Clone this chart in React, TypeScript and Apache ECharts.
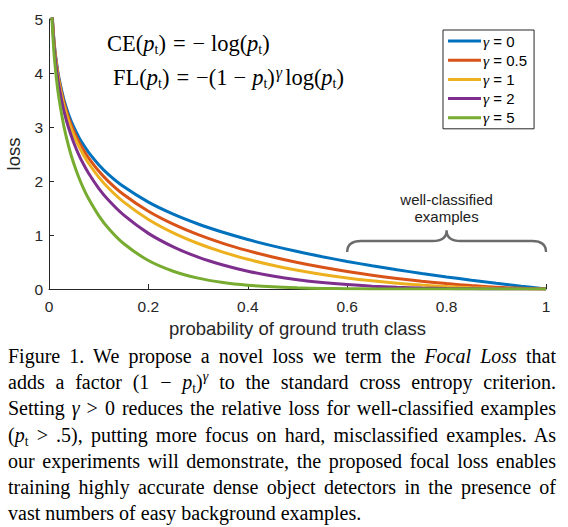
import React, { useEffect, useRef } from "react";
import * as echarts from "echarts";

// probability of ground truth class (x)
const P = [0.005, 0.01, 0.015, 0.02, 0.03, 0.04, 0.05, 0.06, 0.07, 0.08, 0.1, 0.12, 0.15, 0.2, 0.25, 0.3, 0.35, 0.4, 0.45, 0.5, 0.55, 0.6, 0.65, 0.7, 0.75, 0.8, 0.85, 0.9, 0.95, 1.0];
// loss values
const LOSS_G0 = [5.298, 4.605, 4.2, 3.912, 3.507, 3.219, 2.996, 2.813, 2.659, 2.526, 2.303, 2.12, 1.897, 1.609, 1.386, 1.204, 1.05, 0.916, 0.799, 0.693, 0.598, 0.511, 0.431, 0.357, 0.288, 0.223, 0.163, 0.105, 0.051, 0];
const LOSS_G05 = [5.285, 4.582, 4.168, 3.873, 3.454, 3.154, 2.92, 2.728, 2.565, 2.423, 2.184, 1.989, 1.749, 1.44, 1.201, 1.007, 0.846, 0.71, 0.592, 0.49, 0.401, 0.323, 0.255, 0.195, 0.144, 0.1, 0.063, 0.033, 0.012, 0];
const LOSS_G1 = [5.272, 4.559, 4.137, 3.834, 3.401, 3.09, 2.846, 2.645, 2.473, 2.324, 2.072, 1.866, 1.613, 1.288, 1.04, 0.843, 0.682, 0.55, 0.439, 0.347, 0.269, 0.204, 0.151, 0.107, 0.072, 0.045, 0.024, 0.011, 0.003, 0];
const LOSS_G2 = [5.245, 4.514, 4.075, 3.757, 3.299, 2.967, 2.704, 2.486, 2.3, 2.138, 1.865, 1.642, 1.371, 1.03, 0.78, 0.59, 0.444, 0.33, 0.242, 0.173, 0.121, 0.082, 0.053, 0.032, 0.018, 0.009, 0.004, 0.001, 0.0, 0];
const LOSS_G5 = [5.167, 4.379, 3.894, 3.536, 3.011, 2.625, 2.318, 2.065, 1.85, 1.665, 1.36, 1.119, 0.842, 0.527, 0.329, 0.202, 0.122, 0.071, 0.04, 0.022, 0.011, 0.005, 0.002, 0.001, 0.0, 0.0, 0, 0, 0, 0];

const SERIES_NAMES = ["γ = 0", "γ = 0.5", "γ = 1", "γ = 2", "γ = 5"];
const SERIES_VALUES = [LOSS_G0, LOSS_G05, LOSS_G1, LOSS_G2, LOSS_G5];
const COLORS = ["#0072BD", "#D95319", "#EDB120", "#7E2F8E", "#77AC30"];

// brace annotation (data coords): x range, end y, middle y, tip y, label y
const BRACE = [[0.6, 1.0, 0.685, 0.89, 1.09, 1.5]];
const BRACE_LABEL = "well-classified\nexamples";

const X_TICKS = { min: 0, max: 1, interval: 0.2 };
const Y_TICKS = { min: 0, max: 5, interval: 1 };

const SUB = { fontSize: "0.68em", verticalAlign: "-0.28em", lineHeight: 0 } as const;
const SUP = { fontSize: "0.7em", verticalAlign: "0.55em", lineHeight: 0 } as const;

const CAPTION_LINES = [
  <>Figure 1. We propose a novel loss we term the <i>Focal Loss</i> that</>,
  <>adds a factor (1 − <i>p</i><sub style={SUB}>t</sub>)<sup style={SUP}><i>γ</i></sup> to the standard cross entropy criterion.</>,
  <>Setting <i>γ</i> &gt; 0 reduces the relative loss for well-classified examples</>,
  <>(<i>p</i><sub style={SUB}>t</sub> &gt; .5), putting more focus on hard, misclassified examples. As</>,
  <>our experiments will demonstrate, the proposed focal loss enables</>,
  <>training highly accurate dense object detectors in the presence of</>,
  <>vast numbers of easy background examples.</>,
];

const SANS = "'Liberation Sans', Arial, Helvetica, sans-serif";
const SERIF = "'Liberation Serif', 'Times New Roman', serif";
const AXIS_COLOR = "#262626";

const eqRich = {
  a: { fontFamily: SERIF, fontSize: 22.5, lineHeight: 26, fill: "#000" },
  i: { fontFamily: SERIF, fontSize: 22.5, fontStyle: "italic", lineHeight: 26, fill: "#000" },
  o: { fontFamily: SERIF, fontSize: 22.5, lineHeight: 26, fill: "#000", padding: [0, 7, 0, 7] },
  b: { fontFamily: SERIF, fontSize: 22.5, lineHeight: 26, fill: "#000", padding: [0, 6, 0, 6] },
  s: { fontFamily: SERIF, fontSize: 14, lineHeight: 14, verticalAlign: "bottom", fill: "#000" },
  g: { fontFamily: SERIF, fontSize: 16, fontStyle: "italic", lineHeight: 16, verticalAlign: "top", fill: "#000", padding: [0, 3, 0, 1] },
};

function buildOption(): any {
  const lines = SERIES_NAMES.map((name, k) => ({
    name,
    type: "line",
    data: P.map((p, i) => [p, SERIES_VALUES[k][i]]),
    showSymbol: false,
    symbol: "none",
    smooth: 0.35,
    clip: true,
    lineStyle: { width: 3, color: COLORS[k] },
    itemStyle: { color: COLORS[k] },
    z: 2 + k,
  }));

  const brace = {
    type: "custom",
    name: "brace",
    data: BRACE,
    clip: false,
    silent: true,
    z: 10,
    renderItem: (_params: any, api: any) => {
      const x0 = api.value(0), x1 = api.value(1);
      const yEnd = api.value(2), yMid = api.value(3), yTip = api.value(4), yLab = api.value(5);
      const xc = (x0 + x1) / 2;
      const [L, yb] = api.coord([x0, yEnd]);
      const [R] = api.coord([x1, yEnd]);
      const [C, ym] = api.coord([xc, yMid]);
      const yt = api.coord([xc, yTip])[1];
      const lab = api.coord([xc, yLab]);
      const r = 14;
      const d = `M${L},${yb} Q${L},${ym} ${L + r},${ym} L${C - r},${ym} Q${C},${ym} ${C},${yt} Q${C},${ym} ${C + r},${ym} L${R - r},${ym} Q${R},${ym} ${R},${yb}`;
      return {
        type: "group",
        children: [
          {
            type: "path",
            shape: { pathData: d },
            style: { fill: "none", stroke: "#6b6b6b", lineWidth: 2.4 },
          },
          {
            type: "text",
            x: lab[0],
            y: lab[1],
            style: {
              text: BRACE_LABEL,
              align: "center",
              verticalAlign: "middle",
              fontFamily: SANS,
              fontSize: 15,
              lineHeight: 17,
              fill: "#222",
            },
          },
        ],
      };
    },
  };

  return {
    animation: false,
    backgroundColor: "#fff",
    grid: { left: 49, right: 22, top: 19, bottom: 51, containLabel: false, outerBoundsMode: "none" },
    xAxis: {
      type: "value",
      ...X_TICKS,
      name: "probability of ground truth class",
      nameLocation: "middle",
      nameGap: 29,
      nameTextStyle: { fontFamily: SANS, fontSize: 18.5, color: AXIS_COLOR },
      axisLine: { show: true, lineStyle: { color: AXIS_COLOR, width: 1 } },
      axisTick: { show: true, inside: true, length: 5, lineStyle: { color: AXIS_COLOR } },
      axisLabel: { fontFamily: SANS, fontSize: 15.5, color: AXIS_COLOR, margin: 9 },
      splitLine: { show: false },
    },
    yAxis: {
      type: "value",
      ...Y_TICKS,
      name: "loss",
      nameLocation: "middle",
      nameGap: 22,
      nameTextStyle: { fontFamily: SANS, fontSize: 18.5, color: AXIS_COLOR },
      axisLine: { show: true, lineStyle: { color: AXIS_COLOR, width: 1 } },
      axisTick: { show: true, inside: true, length: 5, lineStyle: { color: AXIS_COLOR } },
      axisLabel: { fontFamily: SANS, fontSize: 15.5, color: AXIS_COLOR, margin: 6 },
      splitLine: { show: false },
    },
    legend: {
      data: SERIES_NAMES,
      orient: "vertical",
      left: 443,
      top: 30,
      padding: [3, 7, 3, 5],
      itemGap: 3.2,
      itemWidth: 33,
      itemHeight: 3,
      icon: "rect",
      borderColor: AXIS_COLOR,
      borderWidth: 1,
      backgroundColor: "#fff",
      selectedMode: false,
      formatter: (name: string) => `{g|γ}{t|${name.slice(1)}}`,
      textStyle: {
        padding: [0, 0, 0, -3],
        rich: {
          g: { fontFamily: SERIF, fontStyle: "italic", fontSize: 15.5, lineHeight: 15, color: "#000" },
          t: { fontFamily: SANS, fontSize: 15, lineHeight: 15, color: "#000" },
        },
      },
    },
    graphic: [
      {
        type: "text",
        left: 107,
        top: 32,
        style: { text: "{a|CE(}{i|p}{s|t}{a|)}{o|=}{a|− log(}{i|p}{s|t}{a|)}", rich: eqRich },
      },
      {
        type: "text",
        left: 113,
        top: 64,
        style: { text: "{a|FL(}{i|p}{s|t}{a|)}{o|=}{a|−(1}{b|−}{i|p}{s|t}{a|)}{g|γ}{a|log(}{i|p}{s|t}{a|)}", rich: eqRich },
      },
    ],
    series: [...lines, brace],
  };
}

export default function App() {
  const ref = useRef<HTMLDivElement>(null);
  const capRef = useRef<HTMLDivElement>(null);

  useEffect(() => {
    const chart = echarts.init(ref.current!, null, { renderer: "svg" });
    chart.setOption(buildOption());

    // squeeze caption lines that are wider than the column
    const cap = capRef.current;
    if (cap) {
      const rows = Array.from(cap.querySelectorAll<HTMLSpanElement>("span[data-line]"));
      rows.forEach((span) => {
        const w = span.getBoundingClientRect().width;
        const avail = 548;
        if (w > avail + 0.5) {
          const n = (span.textContent || "").length;
          span.parentElement!.style.letterSpacing = `${-(w - avail) / n}px`;
        }
      });
    }
    return () => chart.dispose();
  }, []);

  return (
    <div style={{ position: "absolute", left: 0, top: 0, width: 568, height: 527, background: "#fff", overflow: "hidden" }}>
      <div ref={ref} style={{ position: "absolute", left: 0, top: 0, width: 568, height: 340 }} />
      <div
        ref={capRef}
        style={{
          position: "absolute",
          left: 8,
          top: 343,
          width: 548,
          fontFamily: SERIF,
          fontSize: 20,
          lineHeight: "26.2px",
          color: "#000",
        }}
      >
        {CAPTION_LINES.map((line, i) => (
          <div
            key={i}
            style={{
              whiteSpace: "nowrap",
              textAlign: "justify",
              textAlignLast: i === CAPTION_LINES.length - 1 ? "left" : "justify",
              height: "26.2px",
            }}
          >
            <span data-line="1">{line}</span>
          </div>
        ))}
      </div>
    </div>
  );
}
